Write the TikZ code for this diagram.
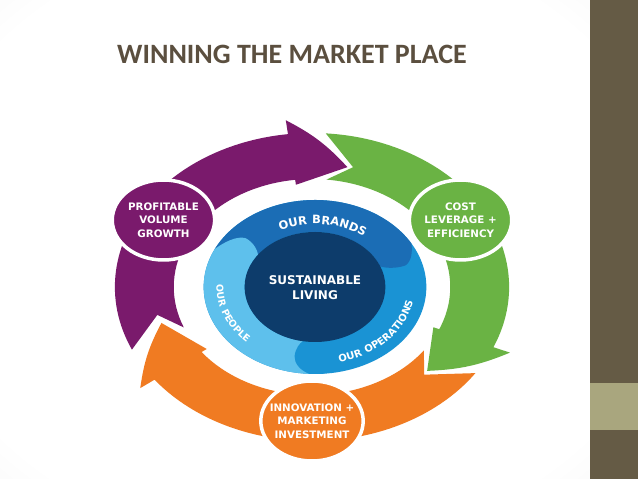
\documentclass[tikz,border=0pt]{standalone}
\usepackage{fontspec}
\setmainfont{DejaVu Sans}
\newfontfamily\titlefont{Carlito}
\newfontfamily\dfont{DejaVu Sans}
\newfontfamily\arcfont[LetterSpace=8]{DejaVu Sans}
\usetikzlibrary{decorations.text}
\definecolor{titlebrown}{HTML}{5B4F3F}
\definecolor{barolive}{HTML}{655B45}
\definecolor{bandolive}{HTML}{A9A67E}
\definecolor{arrpurple}{HTML}{7A1A6C}
\definecolor{arrgreen}{HTML}{6AB344}
\definecolor{arrorange}{HTML}{F07B22}
\definecolor{brandsblue}{HTML}{1B6DB5}
\definecolor{peopleblue}{HTML}{5EC0EC}
\definecolor{opsblue}{HTML}{1A93D4}
\definecolor{navyblue}{HTML}{0D3C6B}
\pgfdeclareradialshading{vign}{\pgfpoint{0bp}{0bp}}{color(0bp)=(white); color(32bp)=(white); color(50bp)=(black!7); color(72bp)=(black!15)}
\newcommand\ringarrow[3]{%
 \fill[#1] (#2:154) arc[start angle=#2, end angle=#3, radius=154]
 -- (#3:168) to[bend left=10] ({#3-20}:123) -- (#3:103) -- (#3:108)
 arc[start angle=#3, end angle={#2-2}, radius=108]
 -- ({#2-11}:124) -- cycle;}
\tikzset{
 ctext/.style={text=white, align=center, font=\dfont\bfseries\fontsize{10.3}{13.5}\selectfont},
 cdisc/.style={line width=3.5pt, draw=white}
}
\begin{document}
\begin{tikzpicture}[x=1pt,y=1pt]
\useasboundingbox (0,0) rectangle (638,479);
% background
\shade[shading=vign] (0,0) rectangle (590,479);
\fill[white] (95,19) rectangle (563,375);
\fill[barolive] (590,0) rectangle (638,479);
\fill[bandolive] (590,49) rectangle (638,96);
% title
\node[text=titlebrown, font=\titlefont\bfseries\fontsize{28}{30}\selectfont] (title) at (292,425) {WINNING THE MARKET PLACE};
% outer ring
\begin{scope}[shift={(312,192)}, x=1.28pt, y=1pt]
 \ringarrow{arrpurple}{204}{97}
 \ringarrow{arrgreen}{86}{-23}
 \ringarrow{arrorange}{-34}{-143}
 \fill[arrpurple, cdisc] (150:134) circle (40);
 \fill[arrgreen, cdisc] (30:134) circle (40);
 \fill[arrorange, cdisc] (270:134) circle (40);
 \node[ctext] (pvg) at (150:134) {PROFITABLE\\VOLUME\\GROWTH};
 \node[ctext] (cle) at (30:134) {COST\\LEVERAGE +\\EFFICIENCY};
 \node[ctext] (imi) at (270:134) {INNOVATION +\\MARKETING\\INVESTMENT};
\end{scope}
% inner blue
\begin{scope}[shift={(315,192)}, x=1.28pt, y=1pt]
 \fill[opsblue] (0,0) circle (87);
 \fill[brandsblue] (154:87) arc[start angle=154, end angle=30, radius=87]
   .. controls (25:84) and (19:80) .. (17:74) .. controls (16:66) and (19:58) .. (22:55)
   arc[start angle=22, end angle=144, radius=55] -- cycle;
 \fill[peopleblue] (267:87) arc[start angle=267, end angle=154, radius=87]
   .. controls (148:84) and (140:80) .. (138:73) .. controls (137:65) and (141:58) .. (144:55)
   arc[start angle=144, end angle=260, radius=55] -- cycle;
 \fill[opsblue] (267:87) .. controls (262:84) and (258:78) .. (257:71) .. controls (256:63) and (258:58) .. (260:55)
   arc[start angle=260, end angle=275, radius=55] -- (275:87) arc[start angle=275, end angle=267, radius=87] -- cycle;
 \fill[navyblue] (0,0) circle (55);
 \node[text=white, align=center, font=\dfont\bfseries\fontsize{12}{15}\selectfont] (sl) at (0,-0.5) {SUSTAINABLE\\LIVING};
 \path[decorate, decoration={text along path, text align=center,
   text={|\color{white}\arcfont\bfseries\fontsize{11.5}{12}\selectfont|OUR BRANDS}}]
   (122:63) arc[start angle=122, end angle=46, radius=63];
 \path[decorate, decoration={text along path, text align=center,
   text={|\color{white}\arcfont\bfseries\fontsize{9.5}{12}\selectfont|OUR PEOPLE}}]
   (162:77) arc[start angle=162, end angle=240, radius=77];
 \path[decorate, decoration={text along path, text align=center,
   text={|\color{white}\arcfont\bfseries\fontsize{10}{12}\selectfont|OUR OPERATIONS}}]
   (272:78) arc[start angle=272, end angle=365, radius=78];
\end{scope}
\end{tikzpicture}
\end{document}
